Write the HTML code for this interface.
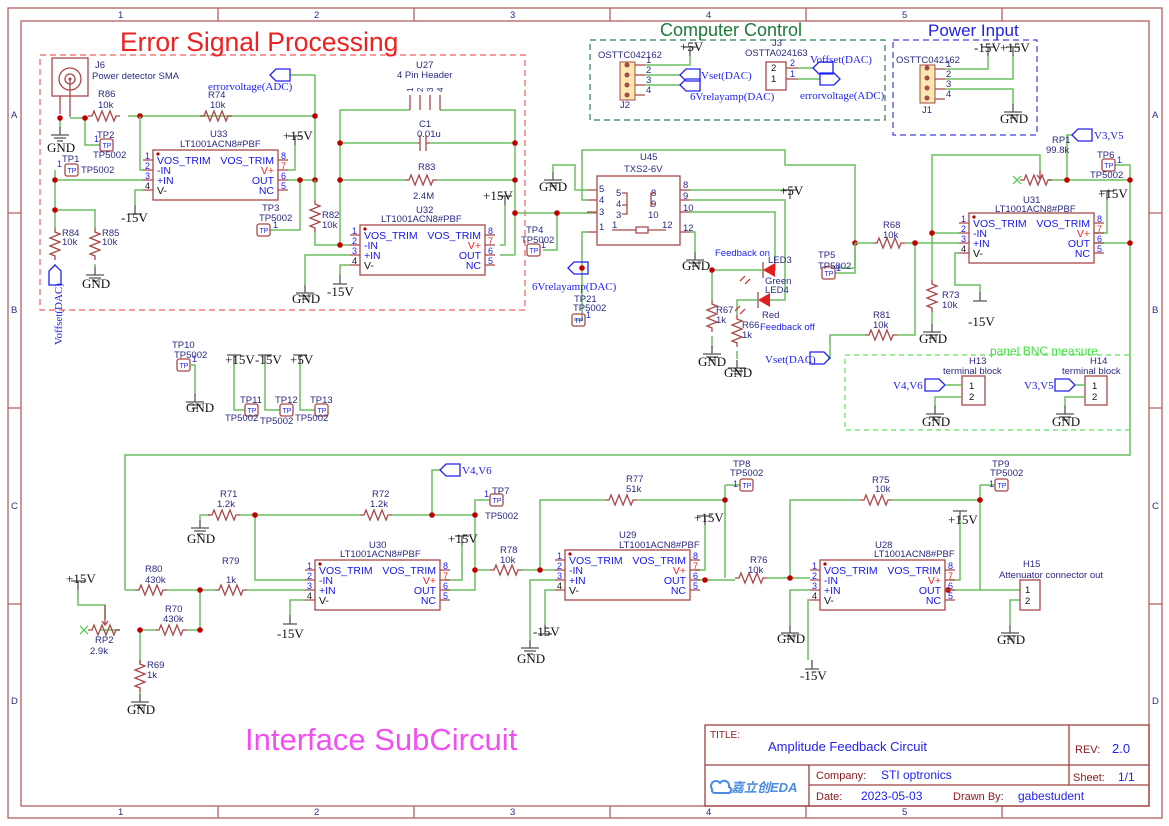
<!DOCTYPE html>
<html><head><meta charset="utf-8"><style>
html,body{margin:0;padding:0;background:#fff}
svg{display:block}
.w{stroke:#6cbf60;stroke-width:1.5;fill:none}
.c{stroke:#a84848;stroke-width:1.3;fill:none}
.k{stroke:#555;stroke-width:1.3;fill:none}
.b{stroke:#b06060;stroke-width:1.3;fill:none}
text{font-family:"Liberation Sans",sans-serif;font-size:9.5px;fill:#2a2a80}
.s{font-family:"Liberation Serif",serif;font-size:13px;fill:#111}
.n{font-family:"Liberation Serif",serif;font-size:11px;fill:#2222ee}
.p{font-size:9px;fill:#2222ee}
.i{font-size:10.5px;fill:#1515ee}
.fr{font-size:9px;fill:#8a2020}
</style></head><body>
<svg width="1169" height="826" viewBox="0 0 1169 826" xmlns="http://www.w3.org/2000/svg">
<defs>
<path id="rh" class="c" d="M0,0h4l2,-5l4,10l4,-10l4,10l4,-10l4,10l2,-5h4"/>
<path id="rv" class="c" d="M0,0v4l5,2l-10,4l10,4l-10,4l10,4l-10,4l5,2v4"/>
<path id="gnd" class="k" d="M0,0v8M-9,8h18M-6,11h12M-3,14h6"/>
<path id="pw" class="k" d="M0,0v-9M-7,-9h14"/>
<path id="pwd" class="k" d="M0,0v9M-7,9h14"/>
<g id="tp"><rect x="0" y="-6" width="13" height="12" rx="2" class="c"/><text x="2.5" y="3" style="font-size:7px;fill:#2222ee">TP</text></g>
<path id="fl" d="M0,0l6,-6h14v12h-14z" fill="none" stroke="#2222ee" stroke-width="1.3"/>
<path id="fr" d="M20,0l-6,-6h-14v12h14z" fill="none" stroke="#2222ee" stroke-width="1.3"/>
<path id="fu" d="M0,0l-6,6v14h12v-14z" fill="none" stroke="#2222ee" stroke-width="1.3"/>
<circle id="d" r="2.8" fill="#c00000"/>
<g id="op">
<rect x="0" y="0" width="125" height="50" class="c"/>
<circle cx="5" cy="4" r="1.6" fill="#a00"/>
<path class="c" d="M-10,10h10M-10,20h10M-10,30h10M-10,40h10M125,10h10M125,20h10M125,30h10M125,40h10"/>
<text class="p" x="-8" y="9">1</text><text class="p" x="-8" y="19">2</text><text class="p" x="-8" y="29">3</text><text x="-8" y="39" style="fill:#111;font-size:9px">4</text>
<text class="p" x="128" y="9">8</text><text x="128" y="19" style="fill:#e22;font-size:9px">7</text><text class="p" x="128" y="29">6</text><text class="p" x="128" y="39">5</text>
<text class="i" x="4" y="14">VOS_TRIM</text><text class="i" x="4" y="24">-IN</text><text class="i" x="4" y="34">+IN</text><text x="4" y="44" style="font-size:10.5px;fill:#111">V-</text>
<text class="i" x="121" y="14" text-anchor="end">VOS_TRIM</text><text x="121" y="24" text-anchor="end" style="font-size:10.5px;fill:#e22">V+</text><text class="i" x="121" y="34" text-anchor="end">OUT</text><text class="i" x="121" y="44" text-anchor="end">NC</text>
</g>
</defs>

<!-- frame -->
<rect x="8" y="8" width="1154" height="810" class="b"/>
<rect x="21" y="21" width="1128" height="785" class="b"/>
<path class="b" d="M218,8v13M414,8v13M610,8v13M806,8v13M1002,8v13M218,806v12M414,806v12M610,806v12M806,806v12M1002,806v12M8,213h13M8,408h13M8,604h13M1149,213h13M1149,408h13M1149,604h13"/>
<g class="fr"><text x="118" y="18">1</text><text x="314" y="18">2</text><text x="510" y="18">3</text><text x="706" y="18">4</text><text x="902" y="18">5</text>
<text x="118" y="815">1</text><text x="314" y="815">2</text><text x="510" y="815">3</text><text x="706" y="815">4</text><text x="902" y="815">5</text>
<text x="11" y="118">A</text><text x="11" y="313">B</text><text x="11" y="509">C</text><text x="11" y="704">D</text>
<text x="1152" y="118">A</text><text x="1152" y="313">B</text><text x="1152" y="509">C</text><text x="1152" y="704">D</text></g>

<!-- section boxes -->
<rect x="40" y="55" width="485" height="255" fill="none" stroke="#f06060" stroke-width="1.2" stroke-dasharray="6,4"/>
<text x="120" y="51" style="font-size:26.5px;fill:#f02020">Error Signal Processing</text>
<rect x="590" y="40" width="295" height="80" fill="none" stroke="#2a8050" stroke-width="1.2" stroke-dasharray="6,4"/>
<text x="660" y="36" style="font-size:18px;fill:#1a7a3a">Computer Control</text>
<rect x="893" y="40" width="144" height="95" fill="none" stroke="#4040e0" stroke-width="1.2" stroke-dasharray="6,4"/>
<text x="928" y="36" style="font-size:17px;fill:#2222dd">Power Input</text>
<rect x="845" y="355" width="285" height="75" fill="none" stroke="#60e060" stroke-width="1.2" stroke-dasharray="5,4"/>
<text x="990" y="355" style="font-size:12px;fill:#40e040">panel BNC measure</text>
<text x="245" y="750" style="font-size:31px;fill:#f050f0">Interface SubCircuit</text>

<!-- ===== Error signal processing ===== -->
<rect x="52" y="58" width="36" height="38" class="c"/><circle cx="70" cy="79" r="11" class="c"/><circle cx="70" cy="79" r="5" class="c"/><circle cx="70" cy="79" r="1.5" fill="#a44"/>
<path class="c" d="M60,96v18M70,79v38"/>
<text x="95" y="68">J6</text><text x="92" y="79">Power detector SMA</text>
<path class="w" d="M60,118v10M70,118h18M85,118v27h15M128,116h187M315,75v105M290,75h25"/>
<use href="#gnd" x="60" y="127"/><text class="s" x="47" y="152">GND</text>
<use href="#d" x="60" y="118"/><use href="#d" x="85" y="118"/>
<use href="#rh" x="88" y="116"/><text x="98" y="97">R86</text><text x="98" y="108">10k</text>
<use href="#tp" x="100" y="145"/><text class="p" x="94" y="142">1</text><text x="97" y="138">TP2</text><text x="93" y="158">TP5002</text>
<use href="#rh" x="200" y="116"/><text x="208" y="98">R74</text><text x="210" y="108">10k</text>
<text class="n" x="208" y="90">errorvoltage(ADC)</text><use href="#fl" x="270" y="75"/>
<use href="#d" x="140" y="116"/><use href="#d" x="315" y="116"/>
<use href="#op" x="153" y="150"/><text x="210" y="137">U33</text><text x="180" y="147">LT1001ACN8#PBF</text>
<path class="w" d="M143,170h-3v-54M143,180h-88M55,170v58M55,210h40v18M143,190h-8v15M288,170h7v-25M288,180h27M300,180v50h-30"/>
<use href="#d" x="55" y="180"/><use href="#d" x="55" y="210"/><use href="#d" x="300" y="180"/><use href="#d" x="315" y="180"/>
<use href="#tp" x="65" y="170"/><text class="p" x="57" y="167">1</text><text x="62" y="162">TP1</text><text x="81" y="173">TP5002</text>
<use href="#rv" x="55" y="228"/><text x="62" y="236">R84</text><text x="62" y="245">10k</text>
<use href="#rv" x="95" y="228"/><text x="102" y="236">R85</text><text x="102" y="245">10k</text>
<path class="w" d="M55,264v2M95,264v3"/>
<use href="#gnd" x="95" y="267"/><text class="s" x="82" y="288">GND</text>
<use href="#fu" x="55" y="265"/><text class="n" transform="translate(62,345) rotate(-90)">Voffset(DAC)</text>
<use href="#pwd" x="135" y="205"/><text class="s" x="121" y="222">-15V</text>
<use href="#pw" x="295" y="145"/><text class="s" x="283" y="140">+15V</text>
<use href="#tp" x="257" y="230"/><text class="p" x="273" y="228">1</text><text x="262" y="211">TP3</text><text x="259" y="221">TP5002</text>
<use href="#rv" x="315" y="200"/><text x="322" y="218">R82</text><text x="322" y="228">10k</text>
<path class="w" d="M315,180v20M315,232v13h35M340,110v135M340,110h70M440,110h75v145M340,143h78M430,143h85M340,180h65M437,180h78M515,213h82M500,255h15M500,245h5v-40M350,255h-45v30M350,265h-10v10"/>
<use href="#d" x="340" y="143"/><use href="#d" x="340" y="180"/><use href="#d" x="340" y="245"/><use href="#d" x="515" y="143"/><use href="#d" x="515" y="180"/><use href="#d" x="515" y="213"/>
<path class="c" d="M410,95v15M420,95v15M430,95v15M440,95v15M418,143h2M420,135v16M426,135v16M426,143h4"/>
<text x="416" y="68">U27</text><text x="397" y="78">4 Pin Header</text>
<text transform="translate(413,92) rotate(-90)" style="font-size:8px">1</text><text transform="translate(423,92) rotate(-90)" style="font-size:8px">2</text><text transform="translate(433,92) rotate(-90)" style="font-size:8px">3</text><text transform="translate(443,92) rotate(-90)" style="font-size:8px">4</text>
<text x="419" y="127">C1</text><text x="417" y="137">0.01u</text>
<use href="#rh" x="405" y="180"/><text x="418" y="170">R83</text><text x="413" y="199">2.4M</text>
<use href="#op" x="360" y="225"/><text x="416" y="213">U32</text><text x="381" y="222">LT1001ACN8#PBF</text>
<use href="#pw" x="505" y="205"/><text class="s" x="483" y="200">+15V</text>
<use href="#gnd" x="305" y="285"/><text class="s" x="292" y="303">GND</text>
<use href="#pwd" x="340" y="275"/><text class="s" x="327" y="296">-15V</text>

<!-- ===== Relay section ===== -->
<rect x="597" y="176" width="83" height="69" class="c"/>
<path class="c" d="M587,190h10M587,200h10M587,212h10M587,232h10M680,190h10M680,200h10M680,212h10M680,232h10M612,230h24M636,227h12v6h-12zM648,230h18"/>
<text x="640" y="160">U45</text><text x="624" y="172">TXS2-6V</text>
<g style="font-size:8.5px;fill:#111;font-family:'Liberation Serif',serif"><text x="599" y="192">5</text><text x="599" y="203">4</text><text x="599" y="215">3</text><text x="599" y="230">1</text><text x="616" y="196">5</text><text x="616" y="207">4</text><text x="616" y="218">3</text><text x="612" y="228">1</text>
<text x="683" y="188">8</text><text x="683" y="199">9</text><text x="683" y="211">10</text><text x="683" y="231">12</text><text x="651" y="196">8</text><text x="651" y="207">9</text><text x="648" y="218">10</text><text x="662" y="228">12</text></g>
<path class="c" d="M622,193h5v12M622,205h5M622,214h5v-9M656,193h-5v14M656,204h-5" stroke-width="1"/>
<path class="w" d="M587,190h-12v-25h-22v7M587,200h-5v-50h203v15h70v103h-20M557,213v37h-14M587,232h-5v88h-8M690,190h100M690,200h95v100h-15M690,212h85v58h-12M690,232h5v20"/>
<use href="#d" x="557" y="213"/><use href="#d" x="582" y="268"/>
<use href="#gnd" x="553" y="172"/><text class="s" x="539" y="191">GND</text>
<use href="#tp" x="527" y="250"/><text class="p" x="541" y="248">1</text><text x="526" y="233">TP4</text><text x="521" y="243">TP5002</text>
<use href="#fl" x="568" y="268"/><text class="n" x="532" y="290">6Vrelayamp(DAC)</text>
<use href="#tp" x="572" y="320"/><text class="p" x="586" y="318">1</text><text x="574" y="302">TP21</text><text x="573" y="311">TP5002</text>
<use href="#pw" x="790" y="199"/><text class="s" x="780" y="195">+5V</text>
<use href="#gnd" x="695" y="252"/><text class="s" x="682" y="270">GND</text>
<path d="M763,270l12,-7v14z" fill="#e02020"/><path class="c" d="M763,262v16"/><path class="w" d="M763,270h-51v30"/>
<path d="M758,300l12,-7v14z" fill="#e02020"/><path class="c" d="M758,292v16"/><path class="w" d="M758,300h-21v15"/>
<path d="M745,276l-5,5M750,279l-5,5M740,306l-5,5M745,309l-5,5" stroke="#e02020" stroke-width="1.2"/>
<use href="#d" x="712" y="270"/>
<text x="715" y="256" style="fill:#2222ee">Feedback on</text><text x="768" y="263">LED3</text><text x="765" y="284">Green</text>
<text x="765" y="293">LED4</text><text x="762" y="318">Red</text><text x="760" y="330" style="fill:#2222ee">Feedback off</text>
<use href="#rv" x="712" y="300"/><text x="716" y="313">R67</text><text x="716" y="323">1k</text>
<use href="#rv" x="737" y="315"/><text x="742" y="328">R66</text><text x="742" y="338">1k</text>
<path class="w" d="M712,336v12M737,351v8"/>
<use href="#gnd" x="712" y="346"/><text class="s" x="698" y="366">GND</text>
<use href="#gnd" x="737" y="360"/><text class="s" x="724" y="377">GND</text>

<!-- U31 section -->
<use href="#d" x="855" y="243"/>
<path class="w" d="M855,243v30h-20M855,243h18M905,243h54M915,243v92h-18M865,335h-35v23h-2M959,233h-27v-78h108v15M932,233v47M932,312v12M959,253h-4v32h25v7M1094,233h13v-33M1094,243h36M1048,180h82M1067,180v-45h5M1115,165h15v290H125v135"/>
<use href="#d" x="915" y="243"/><use href="#d" x="932" y="233"/><use href="#d" x="1067" y="180"/><use href="#d" x="1130" y="180"/><use href="#d" x="1130" y="243"/>
<use href="#tp" x="822" y="273"/><text class="p" x="836" y="271">1</text><text x="818" y="258">TP5</text><text x="818" y="269">TP5002</text>
<use href="#rh" x="873" y="243"/><text x="883" y="228">R68</text><text x="883" y="238">10k</text>
<use href="#rh" x="865" y="335"/><text x="873" y="318">R81</text><text x="873" y="328">10k</text>
<use href="#fr" x="810" y="358"/><text class="n" x="765" y="363">Vset(DAC)</text>
<use href="#op" x="969" y="213"/><text x="1023" y="203">U31</text><text x="995" y="212">LT1001ACN8#PBF</text>
<use href="#rv" x="932" y="280"/><text x="942" y="298">R73</text><text x="942" y="308">10k</text>
<use href="#gnd" x="932" y="324"/><text class="s" x="919" y="343">GND</text>
<use href="#pwd" x="980" y="292"/><text class="s" x="968" y="326">-15V</text>
<use href="#pw" x="1107" y="200"/><text class="s" x="1098" y="198">+15V</text>
<use href="#rh" x="1020" y="180"/><path class="c" d="M1040,170v8M1037,175l3,4l3,-4"/><path d="M1013,176l8,8M1021,176l-8,8" stroke="#4c4" stroke-width="1.2"/>
<text x="1052" y="143">RP1</text><text x="1046" y="153">99.8k</text>
<use href="#fl" x="1072" y="135"/><text class="n" x="1094" y="139">V3,V5</text>
<use href="#tp" x="1102" y="165"/><text class="p" x="1117" y="163">1</text><text x="1097" y="158">TP6</text><text x="1090" y="178">TP5002</text>
<!-- H13 H14 -->
<rect x="962" y="376" width="23" height="29" class="c"/><text x="969" y="389" style="fill:#111">1</text><text x="969" y="400" style="fill:#111">2</text>
<text x="969" y="364">H13</text><text x="943" y="374">terminal block</text>
<use href="#fr" x="925" y="385"/><text class="n" x="893" y="389">V4,V6</text>
<path class="w" d="M945,385h17M962,397h-27v10"/><use href="#gnd" x="935" y="406"/><text class="s" x="922" y="426">GND</text>
<rect x="1085" y="376" width="22" height="29" class="c"/><text x="1092" y="389" style="fill:#111">1</text><text x="1092" y="400" style="fill:#111">2</text>
<text x="1090" y="364">H14</text><text x="1062" y="374">terminal block</text>
<use href="#fr" x="1055" y="385"/><text class="n" x="1024" y="389">V3,V5</text>
<path class="w" d="M1075,385h10M1085,397h-20v10"/><use href="#gnd" x="1065" y="406"/><text class="s" x="1052" y="426">GND</text>

<!-- Computer control connectors -->
<rect x="620" y="62" width="15" height="38" fill="#fbe8b0" stroke="#a84848"/>
<g fill="#a84848"><circle cx="627" cy="65" r="2.5"/><circle cx="627" cy="75" r="2.5"/><circle cx="627" cy="85" r="2.5"/><circle cx="627" cy="95" r="2.5"/></g>
<path class="c" d="M635,65h10M635,75h10M635,85h10M635,95h10"/>
<g class="p"><text x="646" y="63">1</text><text x="646" y="73">2</text><text x="646" y="83">3</text><text x="646" y="93">4</text></g>
<path class="w" d="M645,65h45v-9M645,75h35M645,85h35"/>
<use href="#pw" x="690" y="56"/><text class="s" x="680" y="51">+5V</text>
<use href="#fl" x="680" y="75"/><use href="#fl" x="680" y="85"/>
<text class="n" x="701" y="79">Vset(DAC)</text><text class="n" x="690" y="100">6Vrelayamp(DAC)</text>
<text x="598" y="58">OSTTC042162</text><text x="620" y="108">J2</text>
<rect x="766" y="62" width="20" height="28" class="c"/><text x="771" y="71" style="fill:#111">2</text><text x="771" y="82" style="fill:#111">1</text>
<path class="c" d="M786,68h12M786,79h12"/><text class="p" x="790" y="66">2</text><text class="p" x="790" y="77">1</text>
<path class="w" d="M798,68h15M798,79h22"/>
<use href="#fl" x="813" y="68"/><use href="#fr" x="820" y="79"/>
<text x="772" y="46">J3</text><text x="745" y="56">OSTTA024163</text>
<text class="n" x="810" y="63">Voffset(DAC)</text><text class="n" x="800" y="99">errorvoltage(ADC)</text>
<rect x="920" y="65" width="15" height="38" fill="#fbe8b0" stroke="#a84848"/>
<g fill="#a84848"><circle cx="927" cy="68" r="2.5"/><circle cx="927" cy="78" r="2.5"/><circle cx="927" cy="88" r="2.5"/><circle cx="927" cy="98" r="2.5"/></g>
<path class="c" d="M935,69h10M935,79h10M935,89h10M935,99h10"/>
<g class="p"><text x="946" y="67">1</text><text x="946" y="77">2</text><text x="946" y="87">3</text><text x="946" y="97">4</text></g>
<path class="w" d="M945,69h43v-13M945,79h68v-23M945,89h68v16"/>
<use href="#pw" x="988" y="56"/><use href="#pw" x="1013" y="56"/><text class="s" x="974" y="52">-15V</text><text class="s" x="1000" y="52">+15V</text>
<use href="#gnd" x="1013" y="104"/><text class="s" x="1000" y="123">GND</text>
<text x="896" y="63">OSTTC042162</text><text x="922" y="113">J1</text>

<!-- misc TPs -->
<use href="#tp" x="177" y="365"/><text class="p" x="192" y="362">1</text><text x="172" y="348">TP10</text><text x="174" y="358">TP5002</text>
<path class="w" d="M190,365h5v30"/><use href="#gnd" x="195" y="394"/><text class="s" x="186" y="412">GND</text>
<use href="#pw" x="234" y="364"/><use href="#pw" x="265" y="364"/><use href="#pw" x="300" y="364"/>
<text class="s" x="225" y="364">+15V</text><text class="s" x="255" y="364">-15V</text><text class="s" x="290" y="364">+5V</text>
<path class="w" d="M234,364v46h11M265,364v46h15M300,364v46h15"/>
<use href="#tp" x="245" y="410"/><use href="#tp" x="280" y="410"/><use href="#tp" x="315" y="410"/>
<text x="240" y="403">TP11</text><text x="275" y="403">TP12</text><text x="310" y="403">TP13</text>
<text x="225" y="421">TP5002</text><text x="260" y="424">TP5002</text><text x="295" y="421">TP5002</text>

<!-- ===== Bottom section ===== -->
<path class="w" d="M125,590h10M167,590h48M247,590h58M200,590v40h-13M155,630h-15M140,630v35M120,630h-20M78,590v15h27v14M305,580h-50v-65M240,515h15M255,515h105M392,515h83M432,515v-45h8M475,515v-15h15M475,515v55M445,590h30v-20M475,570h15M522,570h33M540,570v-70h65M637,500h88M725,485h15M725,485v93M555,580h-25v60M555,590h-10v35M695,570h10v-45M695,580h40M767,578h43M790,578v-78h70M892,500h88M980,485h15M980,485v105M810,590h-20v35M810,600h-2v60M950,580h10v-60M950,590h70M1020,600h-10v25M445,580h17v-35M305,600h-15v15M210,515h-10v5"/>
<use href="#rh" x="135" y="590"/><text x="145" y="572">R80</text><text x="145" y="583">430k</text>
<use href="#d" x="200" y="590"/>
<use href="#rh" x="215" y="590"/><text x="222" y="564">R79</text><text x="226" y="583">1k</text>
<use href="#rh" x="155" y="630"/><text x="165" y="612">R70</text><text x="163" y="622">430k</text>
<use href="#d" x="200" y="630"/><use href="#d" x="140" y="630"/>
<use href="#rh" x="88" y="630"/><path class="c" d="M105,605v20M102,621l3,4l3,-4"/><path d="M80,626l8,8M88,626l-8,8" stroke="#4c4" stroke-width="1.2"/>
<use href="#pw" x="78" y="590"/><text class="s" x="66" y="583">+15V</text>
<text x="95" y="643">RP2</text><text x="90" y="654">2.9k</text>
<use href="#rv" x="140" y="660"/><text x="147" y="668">R69</text><text x="147" y="678">1k</text>
<path class="w" d="M140,692v2"/><use href="#gnd" x="140" y="694"/><text class="s" x="127" y="714">GND</text>
<use href="#rh" x="208" y="515"/><text x="220" y="497">R71</text><text x="217" y="507">1.2k</text>
<use href="#gnd" x="200" y="520"/><text class="s" x="187" y="543">GND</text>
<use href="#rh" x="360" y="515"/><text x="372" y="497">R72</text><text x="370" y="507">1.2k</text>
<use href="#d" x="255" y="515"/><use href="#d" x="432" y="515"/><use href="#d" x="475" y="515"/><use href="#d" x="475" y="570"/>
<use href="#fl" x="440" y="470"/><text class="n" x="462" y="474">V4,V6</text>
<use href="#tp" x="490" y="500"/><text class="p" x="484" y="497">1</text><text x="492" y="494">TP7</text><text x="485" y="519">TP5002</text>
<use href="#op" x="315" y="560"/><text x="369" y="548">U30</text><text x="340" y="557">LT1001ACN8#PBF</text>
<use href="#pw" x="462" y="545"/><text class="s" x="448" y="543">+15V</text>
<use href="#pwd" x="290" y="615"/><text class="s" x="277" y="638">-15V</text>
<use href="#rh" x="490" y="570"/><text x="500" y="553">R78</text><text x="500" y="563">10k</text>
<use href="#d" x="540" y="570"/>
<use href="#rh" x="605" y="500"/><text x="626" y="482">R77</text><text x="626" y="492">51k</text>
<use href="#d" x="725" y="500"/><use href="#d" x="705" y="580"/>
<use href="#tp" x="740" y="485"/><text class="p" x="733" y="487">1</text><text x="733" y="467">TP8</text><text x="730" y="476">TP5002</text>
<use href="#op" x="565" y="550"/><text x="619" y="538">U29</text><text x="619" y="548">LT1001ACN8#PBF</text>
<use href="#pw" x="705" y="525"/><text class="s" x="694" y="522">+15V</text>
<use href="#gnd" x="530" y="640"/><text class="s" x="517" y="663">GND</text>
<use href="#pwd" x="545" y="625"/><text class="s" x="533" y="636">-15V</text>
<use href="#rh" x="735" y="578"/><text x="750" y="563">R76</text><text x="748" y="573">10k</text>
<use href="#d" x="790" y="578"/>
<use href="#rh" x="860" y="500"/><text x="872" y="483">R75</text><text x="875" y="492">10k</text>
<use href="#d" x="980" y="500"/><use href="#d" x="948" y="590"/>
<use href="#tp" x="995" y="485"/><text class="p" x="989" y="487">1</text><text x="992" y="467">TP9</text><text x="990" y="476">TP5002</text>
<use href="#op" x="820" y="560"/><text x="875" y="548">U28</text><text x="874" y="557">LT1001ACN8#PBF</text>
<use href="#pw" x="960" y="520"/><text class="s" x="948" y="524">+15V</text>
<use href="#gnd" x="790" y="625"/><text class="s" x="777" y="643">GND</text>
<use href="#pwd" x="812" y="660"/><text class="s" x="800" y="680">-15V</text>
<rect x="1020" y="580" width="20" height="30" class="c"/><text x="1025" y="593" style="fill:#111">1</text><text x="1025" y="604" style="fill:#111">2</text>
<text x="1023" y="567">H15</text><text x="999" y="578">Attenuator connector out</text>
<use href="#gnd" x="1010" y="625"/><text class="s" x="997" y="644">GND</text>

<!-- title block -->
<g stroke="#a04040" stroke-width="1.3" fill="none"><rect x="705" y="725" width="444" height="81"/><path d="M705,765h444M809,765v41M809,785h340M1069,725v60"/></g>
<text x="710" y="738" style="font-size:10px;fill:#8a1a1a">TITLE:</text>
<text x="768" y="751" style="font-size:13px;fill:#2222ee">Amplitude Feedback Circuit</text>
<text x="1075" y="753" style="font-size:11px;fill:#8a1a1a">REV:</text><text x="1112" y="753" style="font-size:13px;fill:#2222ee">2.0</text>
<text x="816" y="779" style="font-size:11px;fill:#8a1a1a">Company:</text><text x="881" y="779" style="font-size:12px;fill:#2222ee">STI optronics</text>
<text x="1073" y="781" style="font-size:11px;fill:#8a1a1a">Sheet:</text><text x="1118" y="781" style="font-size:12px;fill:#2222ee">1/1</text>
<text x="816" y="800" style="font-size:11px;fill:#8a1a1a">Date:</text><text x="861" y="800" style="font-size:12px;fill:#2222ee">2023-05-03</text>
<text x="953" y="800" style="font-size:11px;fill:#8a1a1a">Drawn By:</text><text x="1018" y="800" style="font-size:12px;fill:#2222ee">gabestudent</text>
<path d="M712,789a5,5 0 0,1 8,-6a5,5 0 0,1 9,4a3,3 0 0,1 -2,6h-12a3,3 0 0,1 -3,-4z" fill="none" stroke="#4a8ae0" stroke-width="2"/>
<text x="731" y="792" style="font-size:13px;fill:#4a8ae0;font-family:'Liberation Sans','Noto Sans CJK SC',sans-serif;font-weight:bold;font-style:italic">嘉立创EDA</text>
</svg>
</body></html>
